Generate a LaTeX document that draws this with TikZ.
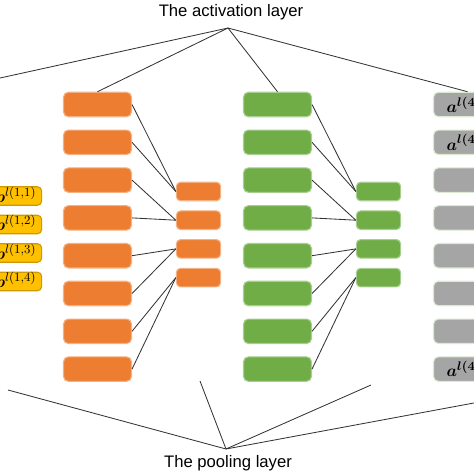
\documentclass[tikz,border=0pt]{standalone}
\usepackage{amsmath}
\usepackage{fontspec}
\setmainfont{Liberation Sans}
\usepackage{tikz}
\usetikzlibrary{positioning}

\definecolor{poolorange}{RGB}{237,125,49}
\definecolor{poolgreen}{RGB}{112,173,71}
\definecolor{poolgray}{RGB}{165,165,165}
\definecolor{poolyellow}{RGB}{255,192,0}

\begin{document}
\begin{tikzpicture}[
		x=0.02532cm, y=-0.02532cm,
		font=\fontsize{12}{14}\selectfont,
		bigbox/.style={rounded corners=3.5pt, minimum width=1.72cm, minimum height=0.62cm, inner sep=0pt, line width=0.8pt},
		smallbox/.style={rounded corners=3pt, minimum width=1.12cm, minimum height=0.47cm, inner sep=0pt, line width=0.8pt},
		inbox/.style={rounded corners=3pt, minimum width=1.7cm, minimum height=0.47cm, inner sep=0pt, line width=0.8pt,
			fill=poolyellow, draw=poolyellow!80!black},
		inlabel/.style={anchor=east, inner sep=0pt, font=\fontsize{12.5}{14}\selectfont},
		outlabel/.style={anchor=west, inner sep=0pt, font=\fontsize{13}{15}\selectfont},
		link/.style={draw=black!80, line width=0.6pt},
		scale=1]
		\useasboundingbox (0,0) rectangle (474,474);
		\clip (0,0) rectangle (474,474);
		
		% Columns of boxes
		\foreach \i in {1,...,8} {
			\node[bigbox, fill=poolorange, draw=poolorange!60!white] (ob\i) at (97.5,{104.5+37.8*(\i-1)}) {};
			\node[bigbox, fill=poolgreen, draw=poolgreen!60!white] (gb\i) at (277.5,{104.5+37.8*(\i-1)}) {};
			\node[bigbox, fill=poolgray, draw=poolgreen!25!white] (ab\i) at (467.5,{104.5+37.8*(\i-1)}) {};
		}
		\foreach \j in {1,...,4} {
			\node[smallbox, fill=poolorange, draw=poolorange!60!white] (os\j) at (198.5,{191.5+28.7*(\j-1)}) {};
			\node[smallbox, fill=poolgreen, draw=poolgreen!60!white] (gs\j) at (378.5,{191.5+28.7*(\j-1)}) {};
			\node[inbox] (p\j) at (8,{196+28.5*(\j-1)}) {};
			\node[inlabel] at ([xshift=-0.14cm]p\j.east) {$\boldsymbol{p}^{l(1,\j)}$};
		}
		
		% Labels in the gray column
		\node[outlabel] at ([xshift=0.34cm]ab1.west) {$\boldsymbol{a}^{\boldsymbol{l(4,1)}}$};
		\node[outlabel] at ([xshift=0.34cm]ab2.west) {$\boldsymbol{a}^{\boldsymbol{l(4,2)}}$};
		\node[outlabel] at ([xshift=0.34cm]ab8.west) {$\boldsymbol{a}^{\boldsymbol{l(4,8)}}$};
		
		% Pooling links
		\foreach \a/\b in {1/1,2/1,3/2,4/2,5/3,6/3,7/4,8/4} {
			\draw[link] (ob\a.east) -- (os\b.west);
			\draw[link] (gb\a.east) -- (gs\b.west);
		}
		
		% Activation layer
		\node (act) at (231,12) {The activation layer};
		\draw
		(228,28) coordinate (actp)
		(-10,80.2) coordinate (actl);
		\draw[link] (actp) -- (actl);
		\draw[link] (actp) -- (ob1.north);
		\draw[link] (actp) -- (gb1.north);
		\draw[link] (actp) -- (ab1.north);
		
		% Pooling layer
		\node (pool) at (228,463) {The pooling layer};
		\draw
		(226,449) coordinate (poolp)
		(8,390) coordinate (pool1)
		(200,381) coordinate (pool2)
		(371,385) coordinate (pool3)
		(490,400) coordinate (pool4);
		\draw[link] (poolp) -- (pool1);
		\draw[link] (poolp) -- (pool2);
		\draw[link] (poolp) -- (pool3);
		\draw[link] (poolp) -- (pool4);
		
\end{tikzpicture}
\end{document}
